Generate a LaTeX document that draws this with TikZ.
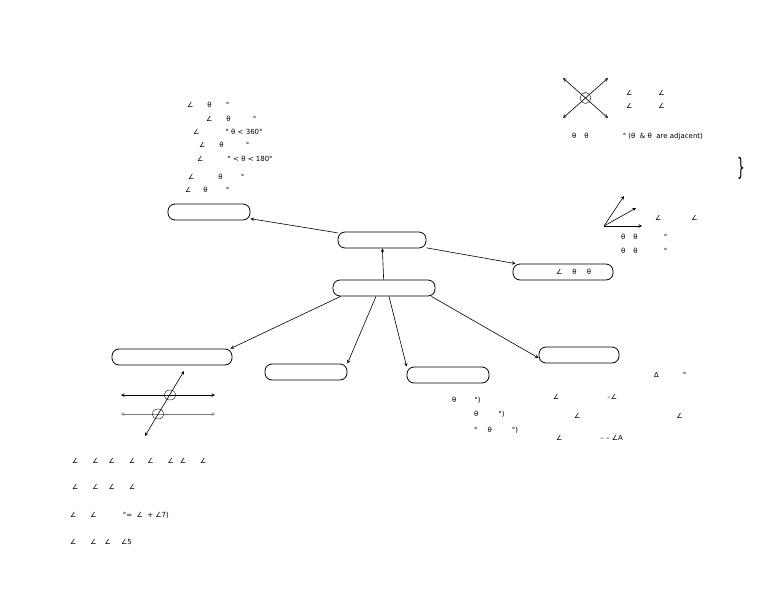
\documentclass[tikz,border=0pt]{standalone}
\usepackage{fontspec}
\setmainfont{DejaVu Sans}
\begin{document}
\begin{tikzpicture}[x=1pt,y=-1pt,
  box/.style={draw,line width=0.8pt,rounded corners=7pt,minimum height=16pt,inner sep=0pt},
  arr/.style={->,>=stealth,line width=0.6pt},
  t/.style={font=\fontsize{7}{8}\selectfont,inner sep=0pt,anchor=west}]
\useasboundingbox (0,0) rectangle (768,594);
\node[box,minimum width=88pt] (A) at (382,240) {};
\node[box,minimum width=102pt] (B) at (384,288) {};
\node[box,minimum width=82pt] (C) at (209,212) {};
\node[box,minimum width=100pt] (D) at (563,272) {};
\node[box,minimum width=120pt] (E) at (172,357) {};
\node[box,minimum width=82pt] (F) at (306,372) {};
\node[box,minimum width=82pt] (G) at (448,375) {};
\node[box,minimum width=80pt] (H) at (579,355) {};
\draw[arr] (A) -- (C);
\draw[arr] (A) -- (D);
\draw[arr] (B) -- (A);
\draw[arr] ([xshift=8pt]B.south west) -- ([xshift=-2pt]E.north east);
\draw[arr] ([xshift=-8pt]B.south) -- (F.north east);
\draw[arr] ([xshift=5pt]B.south) -- (G.north west);
\draw[arr] ([xshift=-4pt]B.south east) -- ([yshift=-3pt]H.west);
% texts top-left
\node[t] (l1) at (187,105) {∠\hspace{14pt}θ\hspace{14pt}°};
\node[t] (l2) at (206,119) {∠\hspace{14pt}θ\hspace{22pt}°};
\node[t] (l3) at (193,132) {∠\hspace{26pt}° θ < 360°};
\node[t] (l4) at (199,145) {∠\hspace{14pt}θ\hspace{22pt}°};
\node[t] (l5) at (197,159) {∠\hspace{24pt}° < θ < 180°};
\node[t] (l6) at (188,177) {∠\hspace{24pt}θ\hspace{18pt}°};
\node[t] (l7) at (185,190) {∠\hspace{12pt}θ\hspace{18pt}°};
% top right
\coordinate (x1) at (563,78); \coordinate (x2) at (608,118);
\coordinate (x3) at (608,78); \coordinate (x4) at (563,118);
\draw[arr,<->] (x1) -- (x2);
\draw[arr,<->] (x3) -- (x4);
\draw (580,98) arc (180:0:5.5);
\draw (580,98) arc (180:360:5.5);
\node[t] (r1) at (626,93) {∠\hspace{26pt}∠};
\node[t] (r2) at (626,106) {∠\hspace{26pt}∠};
\node[t] (r3) at (572,137) {θ\hspace{8pt}θ\hspace{34pt}° (θ \ \& θ \ are adjacent)};
\node[font=\fontsize{12}{12}\selectfont,inner sep=0pt,yscale=2] (br) at (741,168) {\}};
\coordinate (o) at (604,226);
\coordinate (v1) at (624,196); \coordinate (v2) at (636,208); \coordinate (v3) at (642,226);
\draw[arr] (o) -- (v1); \draw[arr] (o) -- (v2); \draw[arr] (o) -- (v3);
\node[t] (r4) at (655,218) {∠\hspace{30pt}∠};
\node[t] (r5) at (621,237) {θ\hspace{8pt}θ\hspace{26pt}°};
\node[t] (r6) at (621,251) {θ\hspace{8pt}θ\hspace{26pt}°};
\node[t] (d1) at (556,272) {∠\hspace{10pt}θ\hspace{10pt}θ};
% lower right
\node[t] (m1) at (452,400) {θ\hspace{18pt}°)};
\node[t] (m2) at (474,414) {θ\hspace{20pt}°)};
\node[t] (m3) at (474,430) {°\hspace{10pt}θ\hspace{20pt}°)};
\node[t] (s0) at (654,375) {∆\hspace{24pt}°};
\node[t] (s1) at (553,397) {∠\hspace{48pt}–∠};
\node[t] (s2) at (574,416) {∠\hspace{96pt}∠};
\node[t] (s3) at (556,438) {∠\hspace{38pt}– – ∠A};
% parallel lines
\coordinate (p1) at (121,395); \coordinate (p2) at (215,395);
\coordinate (q1) at (121,414); \coordinate (q2) at (215,414);
\coordinate (u1) at (184,371); \coordinate (u2) at (145,436);
\draw[arr,<->] (p1) -- (p2);
\draw[arr,<->,gray] (q1) -- (q2);
\draw[arr,<->] (u2) -- (u1);
\draw (170,395) ellipse (6 and 5);
\draw (158,414) ellipse (6 and 5);
% bottom left
\node[t] (b1) at (72,461) {∠\hspace{14pt}∠\hspace{10pt}∠\hspace{14pt}∠\hspace{12pt}∠\hspace{14pt}∠\hspace{6pt}∠\hspace{14pt}∠};
\node[t] (b2) at (72,487) {∠\hspace{14pt}∠\hspace{10pt}∠\hspace{14pt}∠};
\node[t] (b3) at (70,515) {∠\hspace{14pt}∠\hspace{26pt}°= \ ∠\ \ + ∠7)};
\node[t] (b4) at (70,542) {∠\hspace{14pt}∠\hspace{8pt}∠\hspace{10pt}∠5};
\end{tikzpicture}
\end{document}
